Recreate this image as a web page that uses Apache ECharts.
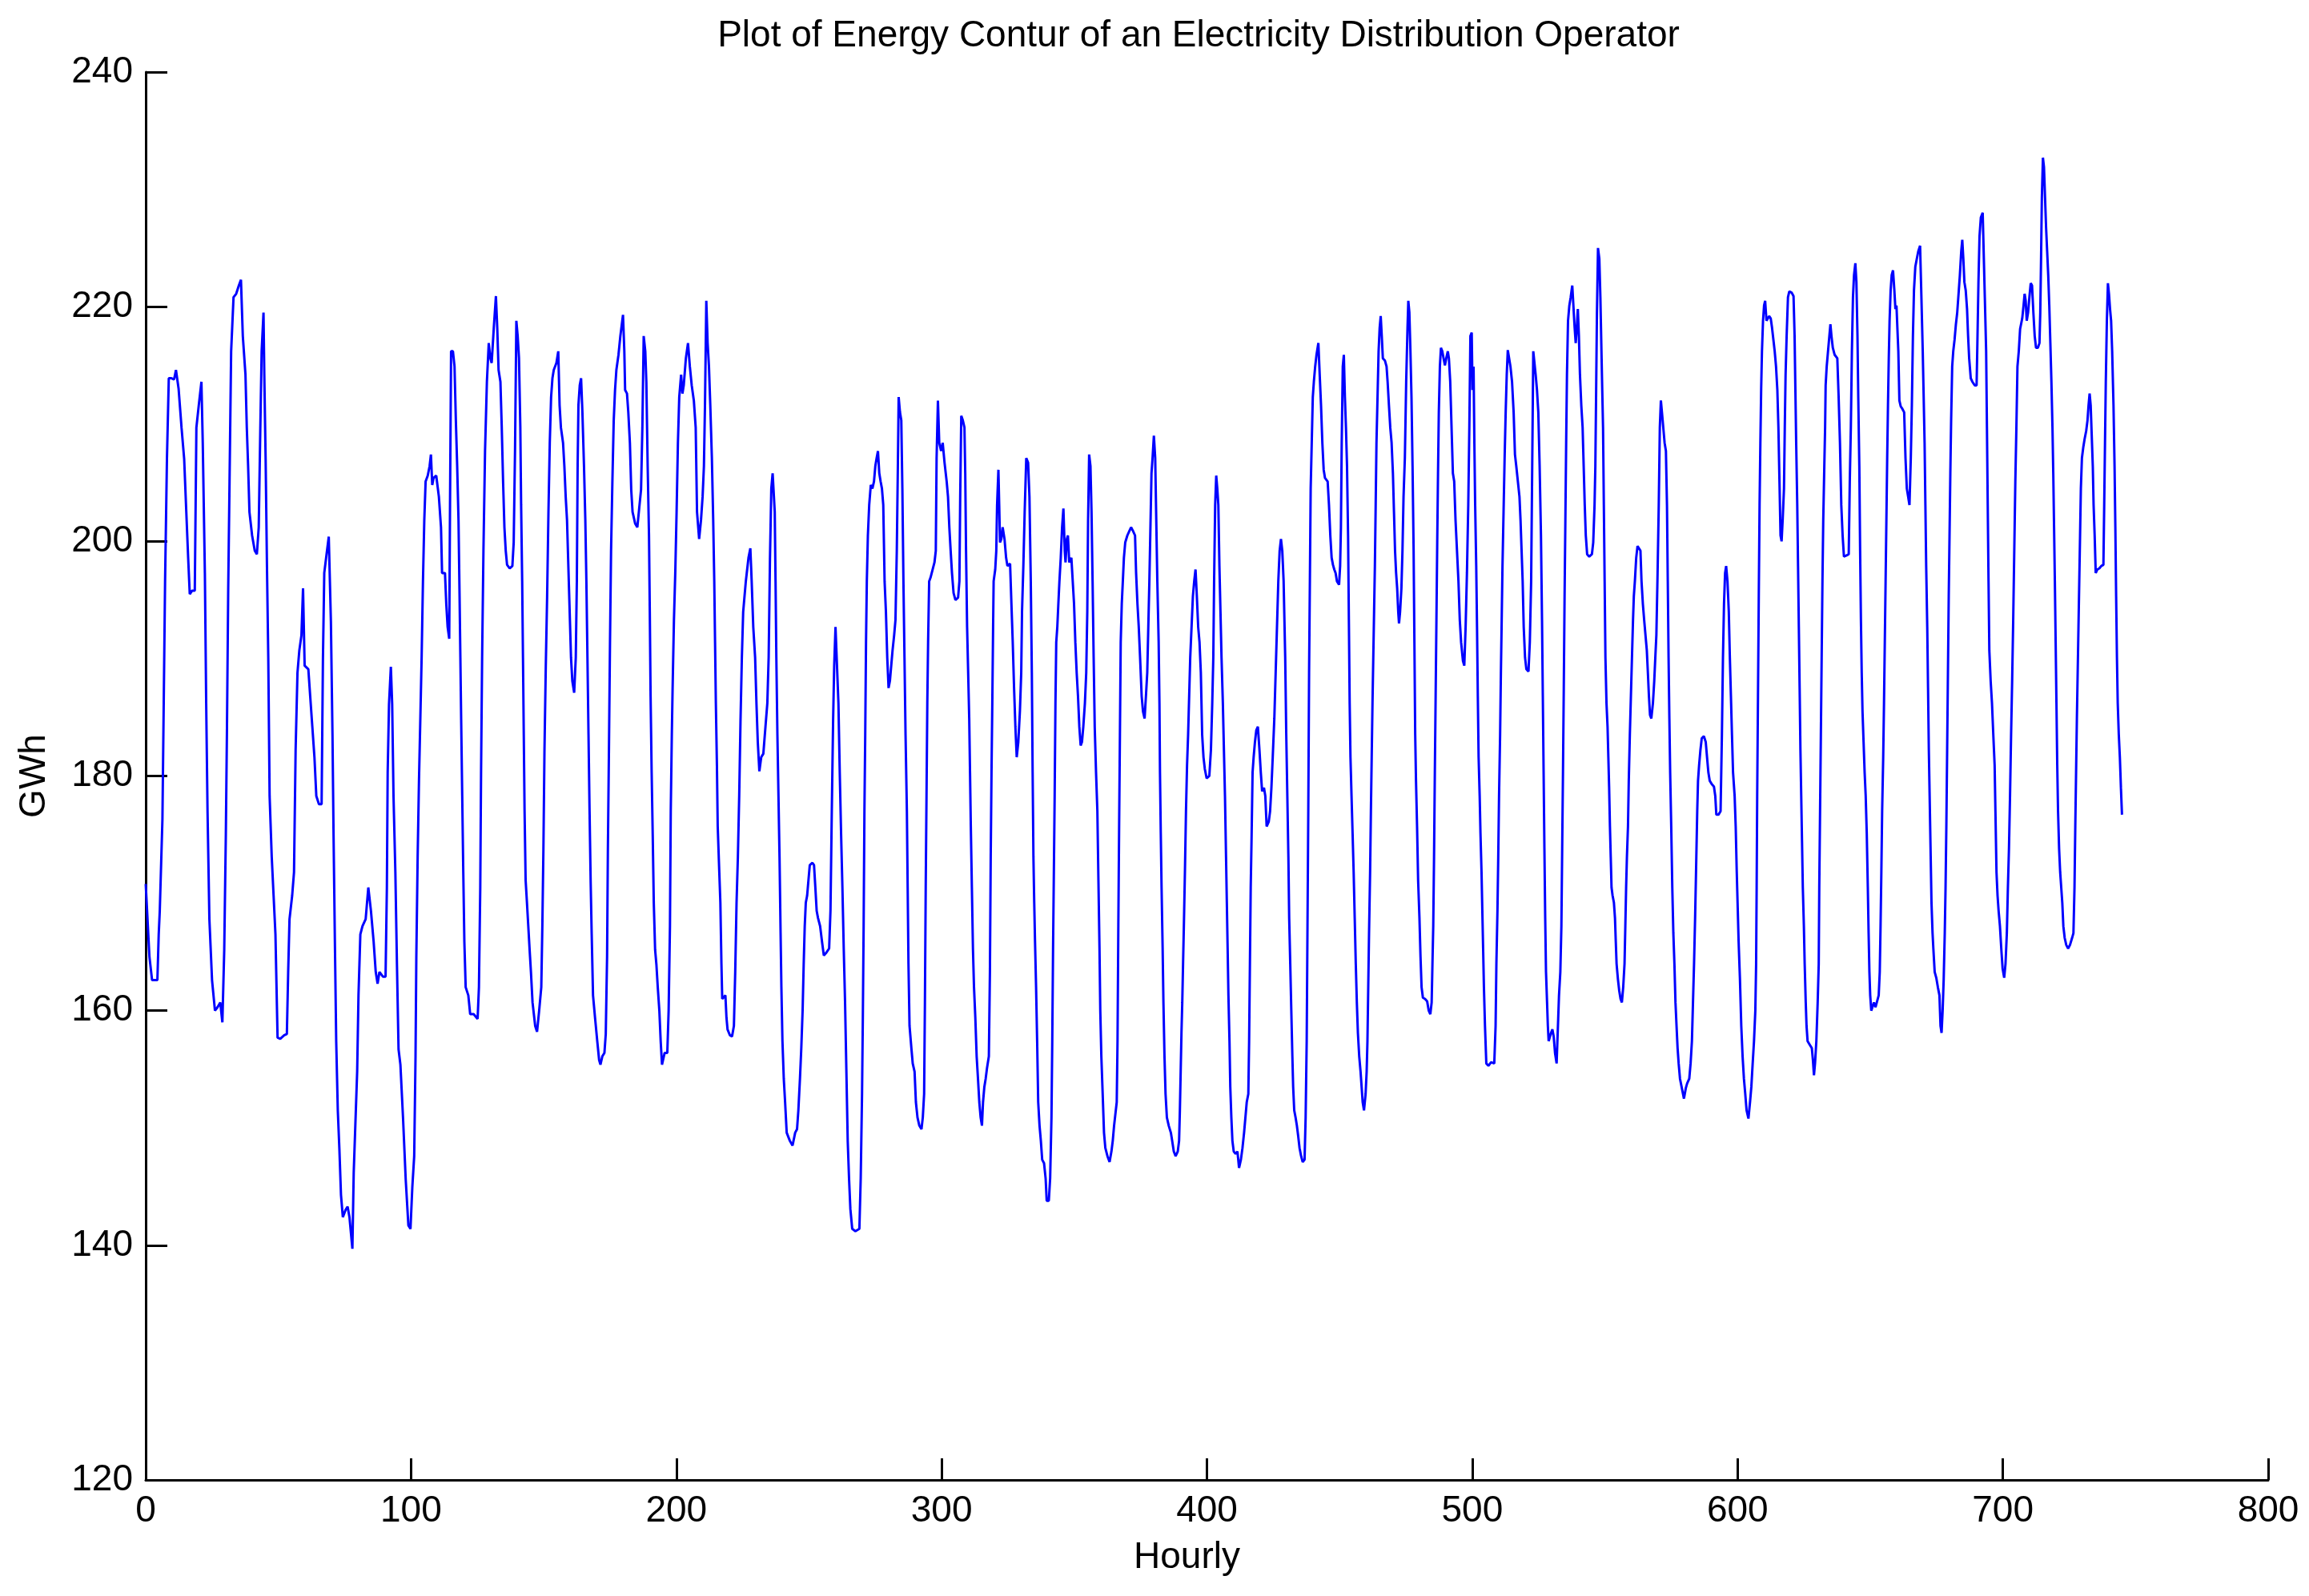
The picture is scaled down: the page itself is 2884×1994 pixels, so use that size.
<!DOCTYPE html>
<html>
<head>
<meta charset="utf-8">
<script src="https://cdn.jsdelivr.net/npm/echarts@6/dist/echarts.min.js"></script>
<style>
html,body{margin:0;padding:0;background:#fff;}
#chart{width:2884px;height:1994px;}
</style>
</head>
<body>
<div id="chart"></div>
<script>
// [hour, GWh] readings, split by period
const seg000 = [[0,170.8],[1.4,164.6],[2.4,162.6],[3.4,162.6],[4.4,162.6],[4.9,166.5],[5.3,168.5],[6.3,176.3],[7.3,196.6],[8.0,207],[8.7,213.9],[9.7,213.9],[10.7,213.8],[11.4,214.6],[12.4,213],[13.5,209.7],[14.5,207],[15.3,202.5],[16.0,198.6],[16.6,195.5],[17.5,195.8],[18.5,195.8],[19.1,209.7],[20.0,211.6],[21.0,213.6],[21.5,208.4],[22.3,197.3],[22.8,186.1],[23.3,177],[24.0,167.8],[25.0,162.6],[26.1,160],[27.1,160.3],[28.1,160.7],[28.9,159],[29.6,165.2],[30.2,175],[30.6,183.5],[31.1,196],[31.6,205.1],[32.2,216.2],[33.1,220.8],[34.1,221.1],[35.1,221.8],[35.9,222.3],[36.6,217.5],[37.6,214.2],[38.1,209.7],[38.6,206.4],[39.1,202.5],[40.1,200.5],[41.1,199.2],[41.9,198.9],[42.6,201.2],[43.2,209.7],[43.7,216.2],[44.4,219.5],[44.7,214.2],[45.2,207],[45.7,197.9],[46.2,190],[46.7,178.3],[47.5,173.1],[48.2,169.8],[48.9,166.5],[49.7,157.7],[50.7,157.6],[52.2,157.9],[53.2,158],[53.7,163.3],[54.2,167.8],[55.2,169.8],[55.9,171.8],[56.5,182.2],[57.2,188.8],[57.9,190.7],[58.7,192],[59.3,196],[59.9,189.4],[61.3,189.1],[62.0,186.8],[62.8,184.2],[63.6,181.6],[64.3,178.3],[65.3,177.6],[66.3,177.6],[66.8,190],[67.3,197.3],[68.0,198.6],[69.0,200.4],[69.8,193.2],[70.4,183.5],[70.8,175],[71.3,165.9],[71.8,157.4],[72.4,151.5],[73.0,148.2],[73.6,144.3],[74.3,142.4],[75.3,143],[76.1,143.3],[76.8,142.4],[77.9,139.7],[78.4,146.2],[78.9,149.5],[79.7,154.8],[80.2,161.3],[80.9,166.5],[81.7,167.2],[82.9,167.8],[83.9,170.5],[84.9,168.5],[85.9,165.9],[86.7,163.3],[87.4,162.3],[88.1,163.3],[89.4,162.9],[90.4,162.9],[90.9,170.5],[91.2,180.3],[91.7,186.1],[92.4,189.3],[92.9,186.1],[93.4,178.3],[94.1,171.8],[94.7,163.9],[95.3,156.7]];
const seg100 = [[96.0,155.4],[97.0,150.8],[98.0,145.6],[99.0,141.7],[99.8,141.4],[100.5,145],[101.2,147.6],[101.7,156.1],[102.0,164.6],[102.5,173.1],[103.0,179.6],[103.5,184.8],[104.0,190.1],[104.5,196.6],[105.0,201.8],[105.5,205.1],[106.3,205.6],[107.0,206.4],[107.5,207.4],[108.0,204.8],[108.5,205.4],[109.5,205.6],[110.5,203.8],[111.3,201.2],[111.7,197.3],[112.8,197.3],[113.3,194.6],[113.8,192.7],[114.4,191.7],[114.7,203.1],[115.1,216.2],[115.8,216.2],[116.4,214.9],[116.9,210.3],[117.4,206.4],[117.9,201.8],[118.3,195.3],[118.6,190.1],[118.9,184.8],[119.3,178.3],[119.7,171.8],[120.1,165.9],[120.6,162],[121.6,161.3],[122.3,159.7],[123.6,159.7],[125.1,159.3],[125.6,162],[126.1,170.5],[126.4,180.3],[126.8,190.1],[127.3,199.2],[127.9,207.7],[128.6,213.6],[129.3,216.9],[129.9,215.6],[130.4,215.2],[131.2,218.2],[132.0,220.9],[132.5,218.2],[133.0,214.6],[133.7,213.6],[134.2,209.7],[134.7,205.1],[135.2,201.2],[135.7,199.2],[136.2,198],[137.2,197.7],[138.2,197.9],[138.7,199.9],[139.2,207.7],[139.7,218.8],[140.2,217.5],[140.7,215.6],[141.2,209.7],[141.5,203.1],[141.9,196.6],[142.2,190.1],[142.5,183.5],[142.8,177],[143.2,171.1],[143.7,169.2],[144.2,167.2],[144.7,165.2],[145.2,163.3],[145.8,160.7],[146.8,158.7],[147.5,158.2],[148.3,160],[149.1,162],[149.5,167.2],[149.9,173.7],[150.3,182.2],[150.8,189.4],[151.3,195.3],[151.8,202.5],[152.3,208.4],[152.8,212.3],[153.3,213.9],[153.8,214.6],[154.8,215.2],[155.5,216.2],[156.0,211.6],[156.5,209.7],[157.3,208.4],[157.8,206.4],[158.3,203.8],[158.8,201.8],[159.3,197.9],[159.8,194],[160.3,190.1],[160.8,188.1],[161.5,187.1],[162.1,190.1],[162.5,196.6],[162.8,206.4],[163.1,211.6],[163.6,213.3],[164.1,213.9],[164.6,211],[165.2,206.4],[165.7,201.8],[166.1,196.6],[166.5,190.1],[166.9,183.5],[167.3,177],[167.7,171.1],[168.1,166.5],[168.6,161.3],[169.4,159.3],[170.2,157.4],[170.9,155.8],[171.4,155.4],[172.1,156.1],[172.9,156.4],[173.4,158],[173.9,164.6],[174.2,173.7],[174.6,182.2],[175.0,191.4],[175.4,199.2],[175.9,205.1],[176.4,210.3],[176.9,212.9],[177.4,214.6],[178.2,215.9],[178.9,217.5],[179.9,219.3],[180.4,216.2],[180.7,212.9],[181.4,212.6],[181.9,211],[182.5,208.4],[183.0,204.4],[183.5,202.5],[184.5,201.5],[185.3,201.2],[186.0,202.8],[186.7,204.4],[187.2,209.7],[187.7,217.5],[188.3,216.2],[188.7,213.6],[189.2,206.4],[189.7,200.5],[190.0,194],[190.3,186.8],[190.7,180.3],[191.1,175],[191.5,169.2],[192.0,165.2],[192.5,163.9],[193.0,162],[193.6,160],[194.1,157.4],[194.6,155.4],[195.6,156.4]];
const seg200 = [[196.6,156.4],[197.1,160],[197.6,167.2],[197.9,177],[198.3,183.5],[198.6,187.5],[199.1,193.3],[199.6,197.3],[200.1,202.5],[200.6,208.4],[201.1,212.3],[201.8,214.2],[202.3,212.6],[202.8,213.3],[203.6,215.6],[204.4,216.9],[205.1,214.9],[205.8,213.3],[206.6,212],[207.3,209.7],[207.8,202.5],[208.6,200.2],[209.3,201.8],[209.9,203.8],[210.4,206.4],[210.8,211.6],[211.3,220.5],[211.8,216.9],[212.3,214.9],[212.8,211.6],[213.4,207.1],[213.9,201.8],[214.3,196.6],[214.6,191.4],[214.9,186.2],[215.3,180.9],[215.6,175.7],[216.1,172.4],[216.6,169.2],[217.0,164],[217.3,161],[217.8,161],[218.5,161.3],[218.9,159.4],[219.3,158.4],[220.2,157.9],[221.0,157.8],[221.7,158.7],[222.2,163.3],[222.7,169.2],[223.2,173.1],[223.7,178.3],[224.2,184.8],[224.7,190.1],[225.2,194],[225.7,195.3],[226.2,196.6],[226.7,197.6],[227.2,198.6],[227.9,199.4],[228.4,196.6],[229.0,192.7],[229.7,190.1],[230.2,186.2],[230.7,182.9],[231.3,180.4],[232.0,181.6],[232.8,181.9],[233.6,184.2],[234.3,186.2],[234.8,190.1],[235.3,198.6],[235.8,204.5],[236.3,205.8],[236.8,205.9],[237.1,202.5],[237.4,196.6],[237.7,190.1],[238.1,183.5],[238.5,178.3],[238.9,173.1],[239.3,166.6],[239.6,162],[240.0,157.4],[240.5,154.2],[241.0,152.2],[241.6,149.6],[242.8,148.9],[243.8,148.5],[244.8,149.6],[245.5,149.9],[246.0,151.5],[246.6,154.2],[247.1,156.8],[247.6,160],[248.0,163.9],[248.4,167.2],[248.8,169.2],[249.3,169.8],[249.8,171.1],[250.3,172.4],[251.3,172.6],[251.9,172.4],[252.4,170.5],[252.9,168.5],[253.4,167.9],[254.2,167.2],[254.9,165.9],[255.6,164.7],[256.4,164.9],[257.6,165.3],[258.1,168.5],[258.6,177],[259.1,184.8],[259.5,189.4],[260.0,192.7],[260.6,192.7],[261.1,186.2],[261.6,180.3],[262.1,175.1],[262.6,170.5],[263.1,165.3],[263.6,160.7],[264.1,154.8],[264.6,148.9],[265.1,145.7],[265.6,143.1],[266.3,141.4],[267.5,141.2],[269.0,141.4],[269.5,145.7],[270.0,152.9],[270.3,159.4],[270.6,167.2],[270.9,177],[271.2,183.5],[271.5,191.4],[271.8,196.6],[272.2,200.5],[272.7,203.1],[273.3,204.8],[273.9,204.5],[274.5,205.1],[275.0,206.4],[275.5,207.1],[276.0,207.7],[276.5,205.8],[277.0,205.1],[277.5,204.5],[278.0,203.1],[278.5,196.6],[279.0,194],[279.5,190.1],[280.0,187.5],[280.5,188.1],[281.0,189.4],[281.5,190.7],[282.1,192],[282.6,193.3],[283.1,199.2],[283.5,206.4],[283.8,212.3],[284.3,211],[284.8,210.3],[285.2,204.5],[285.6,196.6],[286.0,190.1],[286.4,183.5],[286.9,177],[287.2,170.5],[287.5,164],[287.9,158.7],[288.6,156.8],[289.1,155.5],[289.8,154.8],[290.3,152.2],[290.9,150.9],[291.6,150.2],[292.4,149.9],[292.9,150.9],[293.4,152.9],[293.7,160.7],[294.0,170.5],[294.3,178.3],[294.6,186.2],[294.9,191.4],[295.3,196.6],[295.8,196.9],[296.6,197.6],[297.3,198.2],[297.8,199.2]];
const seg300 = [[298.1,207.1],[298.6,212],[299.1,208.4],[299.8,207.7],[300.4,208.4],[301.1,206.7],[301.9,205.1],[302.4,203.8],[302.9,201.2],[303.4,199.2],[303.9,197.3],[304.5,195.6],[305.2,195],[306.2,195.2],[306.7,196.6],[307.0,203.8],[307.4,210.7],[308.0,210.3],[308.6,209.7],[308.9,205.8],[309.2,199.2],[309.6,192.7],[310.0,188.8],[310.4,184.9],[310.7,180.3],[311.0,175.7],[311.4,170.5],[311.8,165.3],[312.2,162],[312.7,159.4],[313.2,156.1],[313.7,154.2],[314.2,152.2],[314.7,150.9],[315.2,150.2],[315.6,152.2],[316.1,153.5],[316.6,154.2],[317.1,155.1],[317.8,156.1],[318.2,163.3],[318.5,173.1],[318.8,180.3],[319.1,186.2],[319.4,192.7],[319.6,196.6],[320.2,197.6],[320.6,199.2],[320.9,203.1],[321.4,206.1],[321.7,203.1],[322.0,199.9],[322.5,200.2],[323.0,201.2],[323.7,200.2],[324.3,198.6],[324.8,197.9],[325.8,198.1],[326.3,194.7],[326.8,191.4],[327.3,187.5],[327.8,184.2],[328.3,181.6],[328.9,182.9],[329.5,185.5],[330.0,188.8],[330.3,194],[330.8,197.9],[331.3,202.5],[331.9,207.1],[332.6,206.7],[333.1,203.8],[333.6,196.6],[334.0,188.8],[334.3,180.3],[334.6,173.1],[334.9,169.2],[335.2,165.9],[335.6,162],[336.0,157.4],[336.4,152.2],[336.9,150.2],[337.4,148.9],[337.9,147.3],[338.6,147],[339.2,145.7],[339.6,143.8],[340.4,143.8],[340.9,145.7],[341.4,150.9],[341.7,157.4],[342.0,165.3],[342.3,171.8],[342.6,178.3],[342.9,186.2],[343.2,191.4],[343.6,192.7],[344.0,194.7],[344.4,196.6],[344.9,198.6],[345.4,201.2],[345.9,202.8],[346.4,199.2],[346.7,198.2],[347.2,200.2],[347.6,200.5],[348.1,198.2],[348.9,198.6],[349.4,198.6],[349.9,194.7],[350.4,191.4],[350.9,188.8],[351.4,186.8],[351.9,184.2],[352.4,182.6],[352.9,182.9],[353.4,184.2],[354.0,186.2],[354.5,188.8],[354.9,194],[355.2,201.8],[355.6,207.4],[356.1,206.4],[356.5,202.5],[356.9,196.6],[357.3,190.1],[357.7,184.2],[358.2,180.3],[358.7,177],[359.1,171.1],[359.5,165.3],[359.8,160],[360.2,156.1],[360.7,152.9],[361.2,149.6],[361.7,148.3],[362.5,147.6],[363.3,147.1],[364.0,148],[364.5,148.9],[365.0,150.2],[365.5,151.2],[366.0,152.2],[366.3,157.4],[366.6,167.2],[366.9,175.7],[367.2,183.5],[367.5,191.4],[367.9,194.7],[368.3,196.6],[368.7,198.6],[369.2,199.9],[370.0,200.5],[370.8,200.9],[371.4,201.2],[372.1,200.9],[372.9,200.5],[373.3,197.3],[373.8,194.7],[374.3,192.7],[374.8,190.1],[375.4,186.8],[375.9,185.5],[376.5,184.9],[377.0,186.8],[377.5,188.8],[377.9,192.7],[378.3,196.6],[378.7,201.2],[379.1,205.8],[379.5,207.1],[380.0,209],[380.5,207.1],[380.9,201.8],[381.3,196.6],[381.8,191.4],[382.1,186.2],[382.3,180.3],[382.6,175.1],[382.9,170.5],[383.3,165.3],[383.6,160.7],[384.0,156.1],[384.4,152.9],[384.9,150.9],[385.6,150.2],[386.4,149.6],[386.9,148.9],[387.5,148],[388.2,147.6],[389.0,148],[389.5,148.9],[389.8,151.5],[390.1,154.8],[390.4,158.1],[390.7,160.7],[391.0,164],[391.3,167.2],[391.7,171.8],[392.1,177],[392.5,180.9],[392.9,183.5],[393.3,186.8],[393.7,190.1],[394.2,192.7],[394.7,195.3],[395.2,196.6],[395.7,197.6]];
const seg400 = [[396.2,195.3],[396.7,192.7],[397.2,191.4],[397.7,188.8],[398.2,183.5],[398.7,181.6],[399.2,180.6],[399.9,179.8],[400.9,180],[401.5,182.2],[402.0,186.2],[402.4,190.1],[402.7,196.6],[403.1,203.1],[403.5,205.6],[403.9,204.5],[404.3,203.1],[404.7,197.9],[405.1,194],[405.5,190.1],[406.0,186.2],[406.4,182.2],[406.8,178.3],[407.2,173.1],[407.5,169.2],[407.8,165.3],[408.1,161.3],[408.5,157.4],[408.8,153.5],[409.2,150.9],[409.6,148.9],[410.1,148],[410.8,147.8],[411.5,148],[412.1,146.6],[412.8,147.3],[413.4,148.3],[414.0,149.6],[414.5,150.9],[415.0,152.2],[415.6,152.9],[415.9,157.4],[416.2,164],[416.5,170.5],[416.8,174.4],[417.2,180.3],[417.6,181.6],[418.1,182.9],[418.6,183.9],[419.2,184.2],[419.8,182.2],[420.3,180.3],[420.8,178.7],[421.5,179],[422.0,178.3],[422.5,175.7],[423.3,176.1],[423.8,177],[424.3,179],[424.8,181.6],[425.4,184.9],[425.9,188.8],[426.4,192.7],[426.9,196.6],[427.4,199.2],[427.9,200.2],[428.4,199.2],[428.9,196.6],[429.5,190.1],[429.9,183.5],[430.3,178.3],[430.7,173.1],[431.0,167.9],[431.4,164],[431.8,160],[432.2,156.1],[432.5,153.5],[432.9,151.5],[433.4,150.9],[433.9,150.2],[434.4,149.3],[434.9,148.3],[435.5,147.6],[436.1,147.1],[436.8,147.3],[437.2,150.9],[437.6,157.4],[437.9,167.2],[438.2,177],[438.5,188.8],[438.8,196.6],[439.1,204.5],[439.5,208.4],[439.9,212.3],[440.3,213.6],[440.8,214.9],[441.3,215.9],[442.0,216.9],[442.5,214.2],[443.0,211.6],[443.5,208.4],[444.0,206.1],[444.5,205.4],[445.5,205.1],[446.0,203.1],[446.5,200.5],[447.0,198.6],[447.5,198],[448.0,197.6],[448.5,197.3],[449.0,196.6],[449.8,196.3],[450.2,197.9],[450.5,201.2],[450.8,208.4],[451.2,214.9],[451.6,215.9],[452.0,212.3],[452.4,209.7],[452.8,206.4],[453.2,200.5],[453.5,193.3],[453.8,186.2],[454.1,181.6],[454.5,178.3],[454.9,175.1],[455.3,171.8],[455.7,167.9],[456.1,164],[456.5,160.7],[456.9,158.1],[457.4,156.1],[457.9,154.8],[458.3,153.5],[458.7,152.2],[459.2,151.5],[459.8,152.9],[460.2,154.8],[460.5,157.4],[460.8,162],[461.1,166.6],[461.5,171.8],[461.8,177],[462.1,181.6],[462.4,186.2],[462.7,190.1],[463.0,194],[463.3,197.9],[463.6,203.1],[463.9,208.4],[464.3,212.3],[464.7,216.2],[465.1,218.2],[465.5,219.2],[465.9,217.5],[466.3,215.6],[467.1,215.4],[467.7,214.9],[468.1,213.6],[468.6,211.6],[469.1,209.7],[469.6,208.4],[470.1,205.8],[470.5,202.5],[470.9,199.2],[471.3,197.3],[471.7,196],[472.1,194],[472.4,193],[472.8,194],[473.3,196],[473.7,199.2],[474.1,203.8],[474.6,207.1],[475.1,213.6],[475.6,218.2],[475.9,220.5],[476.3,219.5],[476.7,216.2],[477.1,212.3],[477.5,206.4],[477.9,199.2],[478.2,191.4],[478.5,183.5],[478.8,179.6],[479.2,175.7],[479.6,171.1],[480.1,167.9],[480.5,164.6],[480.9,162],[481.4,161.1],[482.2,161],[483.0,160.8],[483.6,160],[484.2,159.7],[484.7,160.7],[485.0,164],[485.3,167.2],[485.6,173.1],[485.9,180.3],[486.2,186.8],[486.5,193.3],[486.8,199.9],[487.1,205.8],[487.4,211],[487.8,214.9],[488.2,216.5],[488.7,216.2],[489.2,215.6],[489.7,215],[490.2,215.6],[490.8,216.2],[491.2,215.6],[491.7,213.6],[492.2,209.7],[492.7,205.8],[493.2,205.1],[493.7,201.8]];
const seg500 = [[494.8,196.6],[495.3,193.3],[495.8,191.4],[496.5,189.8],[497.0,189.4],[497.5,192.7],[498.0,197.3],[498.5,203.1],[498.9,209.7],[499.3,217.5],[499.8,217.8],[500.1,212.9],[500.5,214.9],[500.8,208.4],[501.1,203.1],[501.5,197.9],[501.8,192.7],[502.1,186.8],[502.4,181.6],[502.8,178.3],[503.1,175.1],[503.5,171.8],[503.8,168.5],[504.1,165.3],[504.4,162],[504.8,158.7],[505.3,155.5],[506.1,155.3],[507.1,155.6],[508.3,155.5],[508.8,158.7],[509.1,164],[509.5,168.5],[509.8,173.1],[510.1,178.3],[510.5,183.5],[510.8,188.8],[511.1,193.3],[511.4,197.9],[511.8,202.5],[512.2,207.1],[512.6,211],[513.0,214.2],[513.4,216.3],[513.9,216.2],[514.4,214.9],[515.0,213.6],[515.6,211],[516.1,207.4],[516.6,206.4],[517.2,205.1],[517.8,203.8],[518.2,201.8],[518.6,199.2],[519.0,196.6],[519.4,192.7],[519.9,190.1],[520.4,189.1],[521.2,188.9],[521.7,191.4],[522.2,196.6],[522.6,206.4],[523.0,216.2],[523.4,216.2],[523.9,214.2],[524.4,212.9],[524.9,211],[525.4,206.4],[525.9,200.5],[526.3,193.3],[526.6,186.8],[526.9,180.3],[527.2,173.8],[527.5,167.9],[527.8,163.3],[528.2,160.7],[528.5,158.7],[528.8,157.4],[529.2,157.4],[529.7,158.1],[530.2,158.4],[530.7,157.8],[531.2,156.4],[531.8,155.5],[532.3,158.7],[532.7,161.3],[533.2,163.3],[533.6,167.2],[533.9,173.8],[534.2,180.3],[534.5,187.5],[534.8,195.3],[535.1,201.8],[535.4,208.4],[535.7,214.2],[536.1,218.8],[536.6,220.1],[537.1,220.8],[537.7,221.8],[538.2,221.8],[538.6,218.2],[539.0,216.9],[539.4,218.2],[539.8,219.8],[540.2,217.5],[540.6,214.2],[541.1,211.6],[541.6,209.7],[542.0,206.4],[542.4,203.1],[542.8,200.5],[543.3,198.9],[544.1,198.7],[545.1,198.9],[545.6,199.9],[546.1,203.1],[546.4,206.4],[546.7,212.9],[547.0,219.5],[547.4,225],[547.9,224.1],[548.3,220.8],[548.7,216.2],[549.0,212.9],[549.3,209.7],[549.6,203.1],[549.9,196.6],[550.2,190.1],[550.6,186.2],[551.0,184.2],[551.3,181.6],[551.6,179],[551.9,175.7],[552.2,173.1],[552.5,170.5],[552.9,169.8],[553.4,169.2],[553.8,167.9],[554.1,165.9],[554.4,164],[554.9,162.7],[555.4,161.7],[555.9,161],[556.4,160.7],[556.9,162],[557.4,164],[557.7,167.2],[558.0,170.5],[558.3,173.1],[558.7,175.7],[559.0,179.6],[559.4,183.5],[559.8,186.8],[560.2,190.1],[560.6,193.3],[560.9,195.3],[561.3,196.6],[561.8,198.6],[562.3,199.6],[562.9,199.6],[563.4,199.2],[563.8,196.6],[564.3,194.7],[564.8,193.3],[565.3,192],[565.8,190.7],[566.2,188.8],[566.6,186.8],[567.0,185.2],[567.5,184.9],[568.1,186.2],[568.6,188.1],[569.0,190.1],[569.4,192],[569.8,196.6],[570.3,203.1],[570.7,209.7],[571.1,212],[571.5,211],[572.0,209.7],[572.5,208.4],[573.0,207.7],[573.4,203.1],[573.7,196.6],[574.0,190.1],[574.3,184.9],[574.6,180.3],[575.0,175.7],[575.4,170.5],[575.8,166.6],[576.2,164],[576.6,160.7],[577.0,158.7],[577.4,156.8],[577.8,155.5],[578.3,154.2],[579.0,153.4],[579.8,152.5],[580.5,153.4],[581.0,153.8],[581.8,154.2],[582.3,155.5],[582.8,157.4],[583.2,160.7],[583.6,164],[584.0,167.9],[584.4,172.4],[584.8,177],[585.1,179.6],[585.5,180.9],[586.0,182.2],[586.5,183.2],[587.3,183.4],[588.0,182.9],[588.5,181.6],[589.0,180.3],[589.5,179.6],[590.3,179.3],[591.1,179.1],[591.6,178.3],[592.0,176.7],[592.8,176.7],[593.6,177],[594.1,183.5],[594.5,190.1],[594.9,194.7],[595.3,197.3],[595.7,197.9],[596.2,196.6],[596.7,194],[597.1,190.1],[597.5,186.8],[597.9,183.5],[598.3,180.3],[598.9,178.3],[599.3,175.7],[599.7,171.8]];
const seg600 = [[600.4,165.9],[600.9,162.7],[601.4,158.7],[601.9,156.1],[602.4,154.2],[602.9,152.9],[603.4,151.5],[604.1,150.8],[604.7,152.2],[605.2,153.5],[605.7,155.5],[606.2,157.4],[606.7,160],[607.0,164],[607.2,170.5],[607.4,178.3],[607.7,186.8],[608.0,195.3],[608.3,203.1],[608.6,208.4],[608.9,213],[609.2,216.2],[609.6,218.8],[610.0,220.1],[610.4,220.5],[610.9,218.8],[611.4,218.7],[611.9,219.2],[612.5,219],[613.0,218.2],[613.5,217.2],[614.0,216.2],[614.5,214.9],[615.0,212.9],[615.4,209.7],[615.8,205.1],[616.2,200.5],[616.6,200],[617.0,201.8],[617.5,204.5],[617.8,209.7],[618.1,214.2],[618.5,217.5],[619.0,220.8],[619.5,221.3],[620.4,221.2],[621.1,220.9],[621.5,217.5],[621.8,212.9],[622.1,208.4],[622.5,203.1],[622.8,197.9],[623.1,192.7],[623.4,187.5],[623.7,182.2],[624.0,178.3],[624.3,174.4],[624.6,170.5],[625.0,167.2],[625.3,164],[625.7,160.7],[626.0,158.7],[626.4,157.4],[627.2,157.1],[628.0,156.8],[628.4,155.8],[628.8,154.5],[629.2,155.5],[629.7,157.4],[630.2,160.7],[630.6,164],[630.8,170.5],[631.1,177],[631.4,183.5],[631.7,190.1],[632.0,196.6],[632.3,201.8],[632.7,206.4],[633.0,209.7],[633.2,213.3],[633.6,214.9],[634.1,216.2],[634.6,217.5],[635.0,218.5],[635.4,217.5],[635.9,216.5],[636.6,215.9],[637.6,215.6],[638.1,212.3],[638.6,208.4],[639.1,203.1],[639.6,200.5],[640.1,198.7],[641.1,198.8],[641.9,198.9],[642.3,205.1],[642.7,209.7],[643.1,216.2],[643.5,220.8],[643.9,222.7],[644.4,223.7],[644.8,222.1],[645.2,217.5],[645.5,212.3],[645.9,206.4],[646.2,199.2],[646.5,193.3],[646.8,188.8],[647.1,185.5],[647.5,182.9],[647.9,180.3],[648.3,178.3],[648.7,175.1],[649.1,170.5],[649.4,166.6],[649.7,163.3],[650.0,161.3],[650.4,160],[650.9,160],[651.4,160.7],[652.0,160.3],[652.6,160.3],[653.2,161.3],[653.6,163.3],[653.9,167.2],[654.2,171.8],[654.5,177],[654.9,181.6],[655.2,186.2],[655.5,191.4],[655.8,196.6],[656.1,201.8],[656.4,207.1],[656.7,211.6],[657.0,215.6],[657.3,218.8],[657.7,221.4],[658.1,222.7],[658.6,223.1],[659.1,221.4],[659.5,219.8],[659.9,220.1],[660.3,220.1],[660.6,216.2],[661.0,212],[661.5,211.5],[662.1,211.3],[662.8,211],[663.3,207.1],[663.8,204.5],[664.3,203.8],[664.8,203.1],[665.3,207.1],[665.7,211.6],[666.1,217.5],[666.5,221.4],[667.0,223.4],[667.5,224],[668.1,224.7],[668.8,225.2],[669.3,220.8],[669.8,216.2],[670.1,212.9],[670.5,208.4],[670.8,203.1],[671.1,197.9],[671.5,192.7],[671.8,187.5],[672.1,182.2],[672.5,177],[672.8,173.1],[673.1,169.2],[673.5,166.6],[673.8,165.3],[674.3,163.3],[674.9,162.8],[675.5,162],[676.1,161.3],[676.5,158.7],[676.9,158.1],[677.3,160],[677.7,162.7],[678.1,166.6],[678.4,170.5],[678.7,175.7],[679.0,182.2],[679.3,188.8],[679.6,195.3],[679.9,200.5],[680.2,205.8],[680.5,210.3],[680.9,214.9],[681.3,216.2],[681.8,217.2],[682.3,218.5],[682.8,219.5],[683.3,221.1],[683.8,222.7],[684.3,224.7],[684.7,225.7],[685.1,224.1],[685.5,222.1],[686.0,221.4],[686.5,219.8],[686.9,217.5],[687.3,215.6],[687.9,213.9],[688.5,213.6],[689.4,213.3],[690.1,213.3],[690.4,216.9],[690.8,222.1],[691.2,226],[691.7,227.6],[692.4,228],[692.9,228]];
const seg700 = [[693.2,220.8],[693.7,216.2],[694.0,209.7],[694.3,203.1],[694.6,196.6],[694.9,190.7],[695.4,188.1],[695.9,186.2],[696.4,183.5],[696.9,180.9],[697.2,177],[697.6,171.8],[698.0,169.8],[698.4,168.5],[698.9,167.2],[699.4,165.3],[699.9,163.6],[700.5,162.8],[701.0,164],[701.5,166.6],[701.9,170.5],[702.3,173.8],[702.7,178.3],[703.1,183.5],[703.5,188.1],[703.9,193.3],[704.3,199.2],[704.7,205.1],[705.1,209.7],[705.5,214.9],[706.0,216.2],[706.5,218.1],[707.3,219],[707.8,220.1],[708.2,221.1],[708.6,220.5],[709.0,218.8],[709.5,219.5],[710.0,220.8],[710.5,222],[711.0,221.8],[711.5,219.5],[712.0,217.5],[712.5,216.5],[713.2,216.5],[713.8,216.9],[714.1,219.5],[714.4,224.1],[714.7,229.3],[715.1,232.7],[715.5,231.9],[715.9,229.3],[716.3,226.7],[716.7,224.7],[717.1,222.7],[717.5,220.1],[717.9,216.9],[718.3,213.6],[718.7,209.7],[719.0,205.8],[719.3,201.2],[719.6,196.6],[719.9,191.4],[720.2,186.2],[720.5,180.9],[720.8,177],[721.2,173.8],[721.6,171.8],[722.0,170.5],[722.4,169.2],[722.8,167.2],[723.3,166.2],[723.9,165.6],[724.6,165.3],[725.3,165.6],[726.1,166.2],[726.6,166.6],[727.0,170.5],[727.3,175.7],[727.6,180.3],[727.9,184.9],[728.2,188.8],[728.5,192.7],[728.8,196.6],[729.1,200.5],[729.4,204.5],[729.8,207.1],[730.3,208],[730.8,208.7],[731.4,209.4],[731.9,210.3],[732.3,211.6],[732.7,212.6],[733.1,211.6],[733.5,209],[733.9,206.4],[734.2,203.1],[734.6,200.5],[735.0,197.3],[735.6,197.6],[736.4,197.7],[737.1,197.9],[737.9,198],[738.2,203.1],[738.5,208.4],[738.8,213.6],[739.2,218.8],[739.6,222],[740.0,221.1],[740.4,219.8],[740.8,218.8],[741.2,216.2],[741.7,211.6],[742.1,206.4],[742.4,201.2],[742.7,195.3],[743.0,190.1],[743.3,186.2],[743.7,183.5],[744.1,181.6],[744.5,179],[744.9,176.7]];

const xTicks = [0, 100, 200, 300, 400, 500, 600, 700, 800];
const yTicks = [120, 140, 160, 180, 200, 220, 240];
const titleText = 'Plot of Energy Contur of an Electricity Distribution Operator';
const xName = 'Hourly';
const yName = 'GWh';

const energy = [].concat(seg000, seg100, seg200, seg300, seg400, seg500, seg600, seg700);

const FONT = "'Liberation Sans', Arial, Helvetica, sans-serif";
const chart = echarts.init(document.getElementById('chart'), null, {renderer: 'canvas'});

const axisCommon = {
  type: 'value',
  nameLocation: 'middle',
  axisLine: {show: true, onZero: false, lineStyle: {color: '#000', width: 3}},
  axisTick: {show: true, inside: true, length: 27, lineStyle: {color: '#000', width: 3}},
  axisLabel: {fontFamily: FONT, fontSize: 46, color: '#000'},
  splitLine: {show: false}
};

chart.setOption({
  animation: false,
  backgroundColor: '#fff',
  graphic: [{
    type: 'text',
    x: 1497,
    y: 45,
    style: {
      text: titleText,
      font: '46px ' + FONT,
      fill: '#000',
      textAlign: 'center',
      textVerticalAlign: 'middle'
    }
  }],
  grid: {left: 182, right: 51, top: 90, bottom: 145, containLabel: false},
  xAxis: Object.assign({}, axisCommon, {
    min: xTicks[0], max: xTicks[xTicks.length - 1], interval: xTicks[1] - xTicks[0],
    name: xName, nameGap: 74,
    nameTextStyle: {fontFamily: FONT, fontSize: 46, color: '#000', padding: [0, 50, 0, 0]},
    axisLabel: Object.assign({}, axisCommon.axisLabel, {margin: 16})
  }),
  yAxis: Object.assign({}, axisCommon, {
    min: yTicks[0], max: yTicks[yTicks.length - 1], interval: yTicks[1] - yTicks[0],
    name: yName, nameGap: 116,
    nameTextStyle: {fontFamily: FONT, fontSize: 46, color: '#000'},
    axisLabel: Object.assign({}, axisCommon.axisLabel, {margin: 16})
  }),
  series: [{
    type: 'line',
    data: energy,
    showSymbol: false,
    symbol: 'none',
    lineStyle: {color: '#0000ff', width: 3},
    silent: true
  }]
});
</script>
</body>
</html>
